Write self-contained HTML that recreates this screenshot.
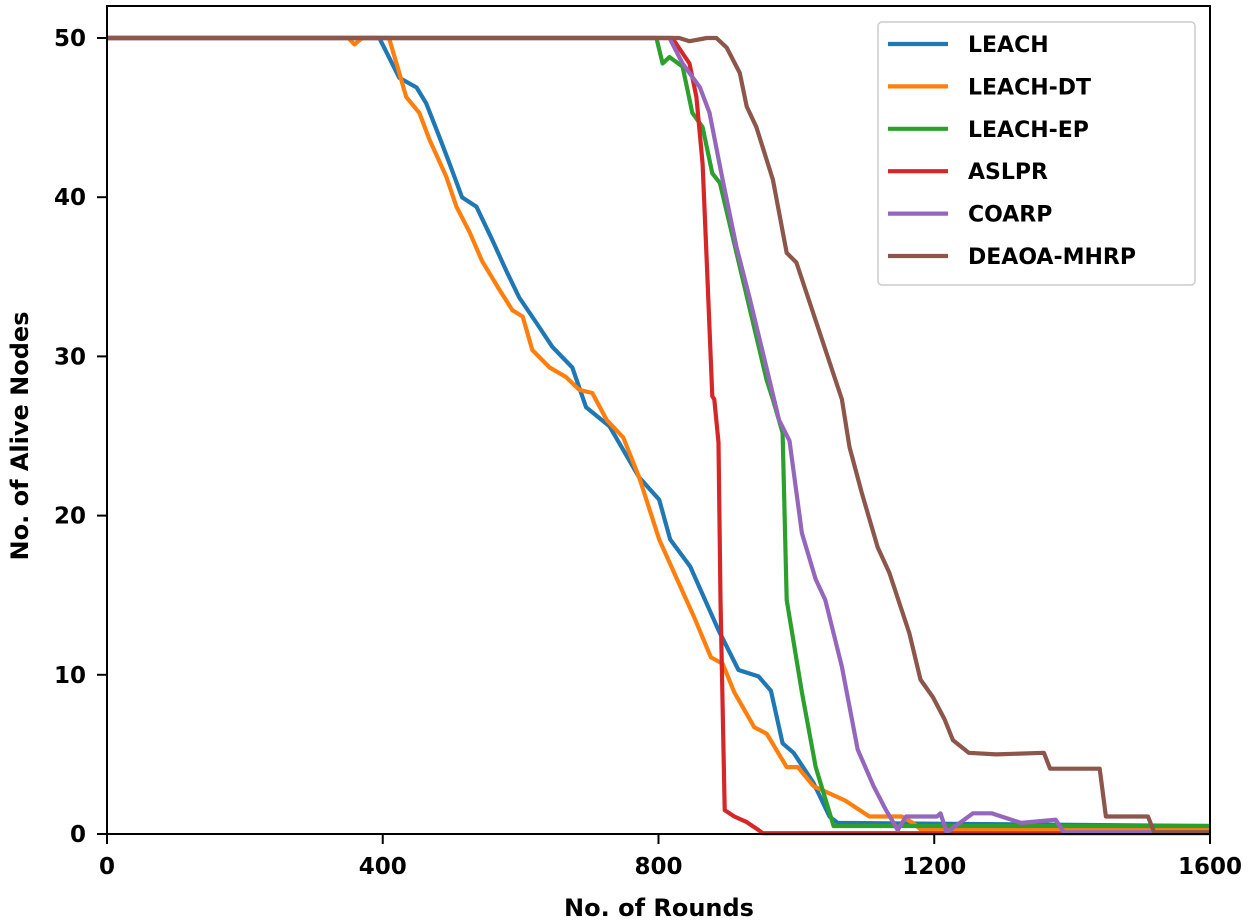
<!DOCTYPE html>
<html><head><meta charset="utf-8"><style>
body{margin:0;background:#fff}
svg{display:block;font-family:"DejaVu Sans","Liberation Sans",sans-serif;font-weight:bold}
</style></head><body>
<svg id="c" width="1250" height="920"></svg>
<script>
const xTicks=[0,400,800,1200,1600];
const yTicks=[0,10,20,30,40,50];
const seriesNames=["LEACH","LEACH-DT","LEACH-EP","ASLPR","COARP","DEAOA-MHRP"];
const seriesColors=["#1f77b4","#ff7f0e","#2ca02c","#d62728","#9467bd","#8c564b"];
const leachX=[0,395,424,449,463,482,497,515,536,559,579,598,623,646,675,695,729,772,801,817,846,887,916,945,963,980,996,1025,1048,1060,1600];
const leachY=[50,50,47.5,46.9,45.9,43.8,42.1,40,39.4,37.3,35.4,33.7,32.1,30.6,29.3,26.8,25.6,22.4,21,18.5,16.8,12.8,10.3,9.9,9,5.7,5.1,3.2,1.1,0.7,0.5];
const dtX=[0,350,359,370,409,424,434,453,468,492,507,526,544,569,588,603,617,642,666,685,704,725,749,772,801,829,852,876,893,910,939,957,986,1002,1025,1071,1106,1153,1169,1180,1600];
const dtY=[50,50,49.6,50,50,47.8,46.3,45.3,43.6,41.3,39.4,37.8,36,34.2,32.9,32.5,30.4,29.3,28.7,27.9,27.7,26,24.9,22.4,18.5,15.8,13.6,11.1,10.7,8.9,6.7,6.3,4.2,4.2,3,2.1,1.1,1.1,0.7,0.3,0.3];
const epX=[0,797,806,816,835,849,864,878,889,957,966,980,986,1008,1028,1054,1600];
const epY=[50,50,48.4,48.8,48.2,45.3,44.4,41.5,40.9,28.5,27.3,25.2,14.7,8.9,4.2,0.5,0.5];
const asX=[0,820,845,855,864,870,878,881,887,890,896,910,928,945,951,1600];
const asY=[50,50,48.4,46.3,42.1,35.9,27.5,27.3,24.6,14.7,1.5,1.1,0.75,0.25,0.05,0.05];
const coX=[0,816,835,860,874,893,913,932,961,975,990,1008,1028,1042,1066,1089,1112,1130,1147,1159,1204,1209,1218,1256,1283,1326,1376,1388,1600];
const coY=[50,50,48.4,46.9,45.3,41.1,36.9,33.7,28.5,26,24.7,18.9,16,14.7,10.5,5.3,3,1.5,0.25,1.1,1.1,1.3,0.1,1.3,1.3,0.7,0.9,0.1,0.1];
const deX=[0,830,845,870,884,899,918,928,942,966,986,1000,1066,1077,1095,1118,1135,1164,1180,1198,1215,1227,1250,1290,1359,1368,1440,1449,1510,1519,1600];
const deY=[50,50,49.8,50,50,49.4,47.8,45.7,44.4,41.1,36.5,35.9,27.3,24.3,21.4,18,16.4,12.6,9.7,8.6,7.2,5.9,5.1,5,5.1,4.1,4.1,1.1,1.1,0.1,0.1];
const allX=[leachX,dtX,epX,asX,coX,deX];
const allY=[leachY,dtY,epY,asY,coY,deY];

const L=107,R=1210,T=38,B=834,TOP=6;
const sx=v=>L+(v-0)/(1600-0)*(R-L);
const sy=v=>B-(v-0)/(50-0)*(B-T);
const NS="http://www.w3.org/2000/svg";
const svg=document.getElementById('c');
function mk(t,a,p){const e=document.createElementNS(NS,t);for(const k in a)e.setAttribute(k,a[k]);(p||svg).appendChild(e);return e;}

const plot=mk('g',{});


for(let s=0;s<allX.length;s++){
  const pts=allX[s].map((x,i)=>sx(x).toFixed(1)+','+sy(allY[s][i]).toFixed(1)).join(' ');
  const pl=mk('polyline',{points:pts,fill:'none',stroke:seriesColors[s],'stroke-width':4.2,'stroke-linejoin':'round'},plot);
  
  
}
const frame=mk('rect',{x:L,y:TOP,width:R-L,height:B-TOP,fill:'none',stroke:'#000','stroke-width':2});



xTicks.forEach(v=>{
  mk('line',{x1:sx(v),x2:sx(v),y1:B,y2:B+10,stroke:'#000','stroke-width':2});
  const t=mk('text',{x:sx(v),y:B+40,'text-anchor':'middle','font-size':23});
  t.textContent=v;
  
  
});
yTicks.forEach(v=>{
  mk('line',{x1:L-10,x2:L,y1:sy(v),y2:sy(v),stroke:'#000','stroke-width':2});
  const t=mk('text',{x:L-21,y:sy(v)+8,'text-anchor':'end','font-size':23});
  t.textContent=v;
  
  
});
const xt=mk('text',{x:659,y:916,'text-anchor':'middle','font-size':24});
xt.textContent='No. of Rounds';


const yt=mk('text',{x:0,y:0,'text-anchor':'middle','font-size':24,transform:'translate(28,436) rotate(-90)'});
yt.textContent='No. of Alive Nodes';



const lg=mk('g',{});


mk('rect',{x:878,y:22,width:317,height:263,rx:4,fill:'#fff',stroke:'#ccc','stroke-width':1.5},lg);
seriesNames.forEach((n,i)=>{
  const y=44+i*42.4;
  const ln=mk('line',{x1:888,x2:948,y1:y,y2:y,stroke:seriesColors[i],'stroke-width':4.2},lg);
  
  
  const t=mk('text',{x:968,y:y+8,'font-size':22},lg);
  t.textContent=n;
  
  
});
</script>
</body></html>
